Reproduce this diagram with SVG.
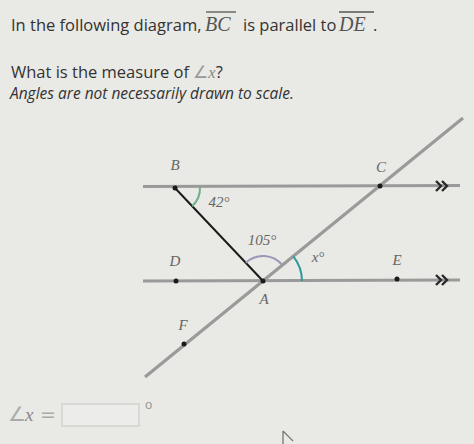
<svg xmlns="http://www.w3.org/2000/svg" width="474" height="444" viewBox="0 0 474 444">
<style>
.t{font-family:"Open Sans","Liberation Sans",sans-serif;fill:#333}
.m{font-family:"Liberation Serif","DejaVu Serif",serif;font-style:italic;fill:#555}
.line{stroke:#9a9a9a;stroke-width:3.2;stroke-linecap:butt;fill:none}
.pt{fill:#1a1a1a}
.lbl{font-family:"Liberation Serif","DejaVu Serif",serif;font-style:italic;font-size:15px;fill:#666;text-anchor:middle}
.chev{stroke:#2a2a2a;stroke-width:2.4;fill:none}
</style>
<rect width="474" height="444" fill="#e9e9e5"/>
<g id="question">
<text class="t" x="11" y="31" font-size="16.5">In the following diagram,</text>
<text class="m" x="205" y="31" font-size="20">BC</text>
<line x1="206" y1="12" x2="236" y2="12" stroke="#555" stroke-width="1.3"/>
<text class="t" x="243" y="31" font-size="16.5">is parallel to</text>
<text class="m" x="339" y="31" font-size="20">DE</text>
<line x1="339" y1="12" x2="374" y2="12" stroke="#555" stroke-width="1.3"/>
<text class="t" x="373" y="31" font-size="16.5">.</text>
<text class="t" x="11" y="78" font-size="16.5">What is the measure of <tspan fill="#999">∠</tspan><tspan font-family="Liberation Serif,serif" font-style="italic" fill="#888">x</tspan>?</text>
<text class="t" x="10" y="99" font-size="15.5" font-style="italic" fill="#555">Angles are not necessarily drawn to scale.</text>
</g>
<g id="connectors">
<line id="lineBC" class="line" x1="143" y1="186.5" x2="460" y2="185.5"/>
<line id="lineDE" class="line" x1="143" y1="281" x2="460" y2="280"/>
<line id="transversal" class="line" x1="145" y1="377" x2="463" y2="118"/>
<line id="BA" x1="175" y1="188" x2="263" y2="281" stroke="#1a1a1a" stroke-width="2"/>
<path class="chev" d="M436 181 L441 186 L436 191 M442 181 L447 186 L442 191"/>
<path class="chev" d="M436 275 L441 280 L436 285 M442 275 L447 280 L442 285"/>
</g>
<g id="angles">
<path d="M200 187 A25 25 0 0 1 192.2 206.2" stroke="#6fb08c" stroke-width="2" fill="none"/>
<path d="M245.8 262.8 A25 25 0 0 1 282.4 265.2" stroke="#9a98b8" stroke-width="2" fill="none"/>
<path d="M293.3 256.4 A39 39 0 0 1 302 281" stroke="#2d9a9a" stroke-width="2" fill="none"/>
</g>
<g id="B"><circle class="pt" cx="175" cy="188" r="2.5"/><text class="lbl" x="175" y="170">B</text></g>
<g id="C"><circle class="pt" cx="380" cy="186" r="2.5"/><text class="lbl" x="381" y="172">C</text></g>
<g id="D"><circle class="pt" cx="176" cy="281" r="2.5"/><text class="lbl" x="175" y="266">D</text></g>
<g id="E"><circle class="pt" cx="397" cy="279" r="2.5"/><text class="lbl" x="397" y="265">E</text></g>
<g id="A"><circle class="pt" cx="263" cy="281" r="2.5"/><text class="lbl" x="264" y="304">A</text></g>
<g id="F"><circle class="pt" cx="184" cy="344" r="2.5"/><text class="lbl" x="183" y="330">F</text></g>
<g id="labels">
<text class="lbl" x="219" y="207" font-size="13" fill="#7a9a88">42°</text>
<text class="lbl" x="262" y="245" font-size="14">105°</text>
<text class="lbl" x="318" y="262" font-size="13" fill="#999">x°</text>
</g>
<g id="answer">
<text x="8" y="421" font-family="DejaVu Sans,sans-serif" font-size="20" fill="#aaa">∠</text>
<text x="25" y="421" font-family="Liberation Serif,serif" font-style="italic" font-size="19" fill="#888">x</text>
<text x="40" y="421" font-family="DejaVu Sans,sans-serif" font-size="19" fill="#aaa">=</text>
<rect x="62" y="404" width="77" height="22" fill="#ececea" stroke="#d2d2d0" stroke-width="1.5"/>
<text x="145" y="409" font-family="Liberation Sans,sans-serif" font-size="13" fill="#999">o</text>
</g>
<g id="cursor">
<path d="M283 431 L283 444 M283 431 L293 441" stroke="#777" stroke-width="1.3" fill="none"/>
</g>
</svg>
